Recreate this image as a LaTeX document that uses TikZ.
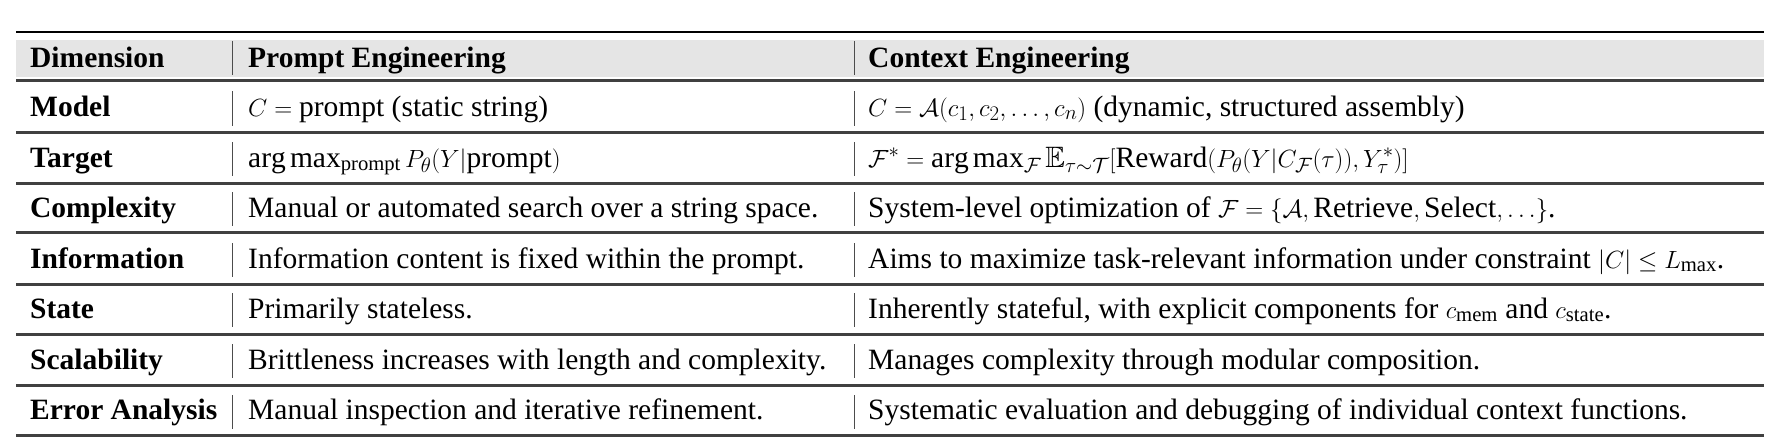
\documentclass[tikz,border=0pt]{standalone}
\usepackage{amsmath,amssymb}
\usepackage{fontspec}
\setmainfont{Liberation Serif}
\begin{document}
\begin{tikzpicture}[x=1pt,y=-1pt,
  cell/.style={anchor=base west,inner sep=0pt,font=\fontsize{29.5}{33}\selectfont},
  head/.style={cell,font=\fontsize{29.5}{33}\selectfont\bfseries},
  rule/.style={line width=3pt,draw=black!75},
  sep/.style={line width=1pt,draw=black!70}]
\useasboundingbox (0,0) rectangle (1786,444);
\fill[black!10] (16,40) rectangle (1764,77);
\draw[line width=2.5pt] (16,32) -- (1764,32);
\foreach \y in {81,132,183,232,284,334,385,435} \draw[rule] (16,\y) -- (1764,\y);
\foreach \t/\b in {41/75,91/126,142/176,192/226,243/277,293/327,344/378,395/429}{
  \draw[sep] (232,\t) -- (232,\b);
  \draw[sep] (854,\t) -- (854,\b);}
\node[head] (h1) at (30,67) {Dimension};
\node[head] (h2) at (248,67) {Prompt Engineering};
\node[head] (h3) at (868,67) {Context Engineering};
\node[head] (r1) at (30,116) {Model};
\node[cell] (a1) at (248,116) {$C=\text{prompt}$ (static string)};
\node[cell] (b1) at (868,116) {$C=\mathcal{A}(c_1,c_2,\ldots,c_n)$ (dynamic, structured assembly)};
\node[head] (r2) at (30,167) {Target};
\node[cell] (a2) at (248,167) {$\arg\max_{\text{prompt}} P_\theta(Y|\text{prompt})$};
\node[cell] (b2) at (868,167) {$\mathcal{F}^*=\arg\max_{\mathcal{F}} \mathbb{E}_{\tau\sim\mathcal{T}}[\text{Reward}(P_\theta(Y|C_{\mathcal{F}}(\tau)),Y^*_\tau)]$};
\node[head] (r3) at (30,217) {Complexity};
\node[cell] (a3) at (248,217) {Manual or automated search over a string space.};
\node[cell] (b3) at (868,217) {System-level optimization of $\mathcal{F}=\{\mathcal{A},\text{Retrieve},\text{Select},\ldots\}$.};
\node[head] (r4) at (30,268) {Information};
\node[cell] (a4) at (248,268) {Information content is fixed within the prompt.};
\node[cell] (b4) at (868,268) {Aims to maximize task-relevant information under constraint $|C|\le L_{\text{max}}$.};
\node[head] (r5) at (30,318) {State};
\node[cell] (a5) at (248,318) {Primarily stateless.};
\node[cell] (b5) at (868,318) {Inherently stateful, with explicit components for $c_{\text{mem}}$ and $c_{\text{state}}$.};
\node[head] (r6) at (30,369) {Scalability};
\node[cell] (a6) at (248,369) {Brittleness increases with length and complexity.};
\node[cell] (b6) at (868,369) {Manages complexity through modular composition.};
\node[head] (r7) at (30,419) {Error Analysis};
\node[cell] (a7) at (248,419) {Manual inspection and iterative refinement.};
\node[cell] (b7) at (868,419) {Systematic evaluation and debugging of individual context functions.};
\end{tikzpicture}
\end{document}
